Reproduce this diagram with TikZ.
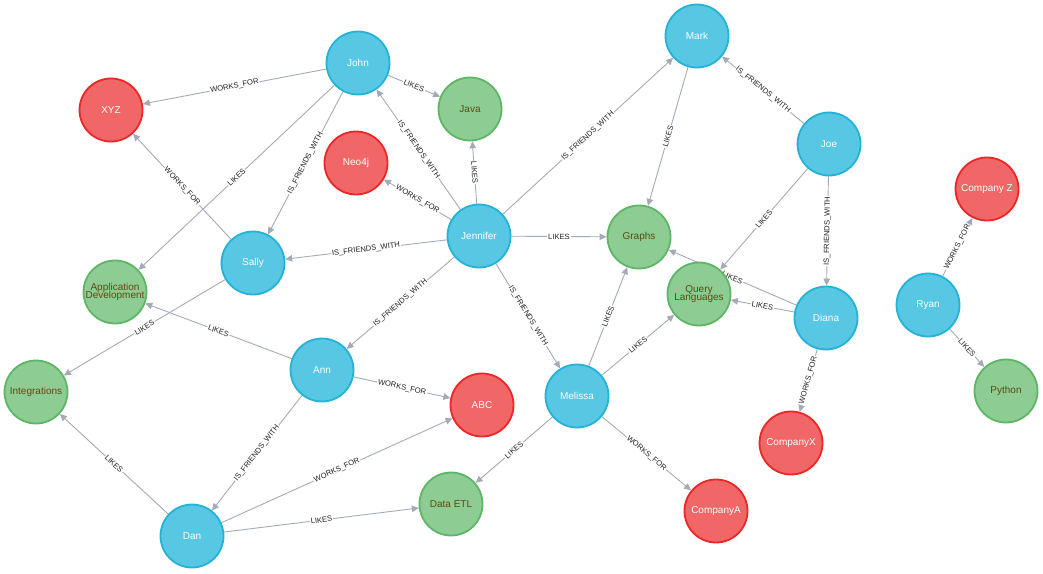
\documentclass[tikz,border=0pt]{standalone}
\usepackage{fontspec}
\setmainfont{Liberation Sans}
\usetikzlibrary{arrows.meta,backgrounds}
\definecolor{pfill}{HTML}{57C7E3}
\definecolor{pline}{HTML}{23B3D7}
\definecolor{cfill}{HTML}{F16667}
\definecolor{cline}{HTML}{EB2728}
\definecolor{tfill}{HTML}{8DCC93}
\definecolor{tline}{HTML}{5DB665}
\definecolor{ttext}{HTML}{604A0E}
\definecolor{edgec}{HTML}{A5ABB6}
\definecolor{lblc}{HTML}{222222}
\tikzset{
  nd/.style={circle,minimum size=63pt,inner sep=0pt,line width=1.8pt,align=center,
    font=\fontsize{10}{10}\selectfont},
  person/.style={nd,fill=pfill,draw=pline,text=white},
  company/.style={nd,fill=cfill,draw=cline,text=white},
  topic/.style={nd,fill=tfill,draw=tline,text=ttext},
  edge/.style={draw=edgec,line width=0.9pt,-{Triangle[length=7pt,width=6.5pt]}},
  lbl/.style={midway,sloped,fill=white,inner sep=1pt,text=lblc,
    font=\fontsize{7.6}{8}\selectfont}
}
\begin{document}
\begin{tikzpicture}[x=1pt,y=-1pt]
\useasboundingbox (0,0) rectangle (1043,573);
\node[person] (john) at (358,63) {John};
\node[company] (xyz) at (111,110) {XYZ};
\node[topic] (java) at (470,109) {Java};
\node[company] (neo) at (356,163) {Neo4j};
\node[person] (jen) at (479,236) {Jennifer};
\node[person] (sally) at (253,263) {Sally};
\node[topic] (app) at (115,292) {Application\\[-1.5pt]Development};
\node[topic] (integ) at (36,392) {Integrations};
\node[person] (ann) at (322,370) {Ann};
\node[company] (abc) at (482,405) {ABC};
\node[person] (dan) at (192,536) {Dan};
\node[topic] (etl) at (451,504) {Data ETL};
\node[person] (mel) at (577,396) {Melissa};
\node[company] (ca) at (716,511) {CompanyA};
\node[topic] (graphs) at (639,237) {Graphs};
\node[topic] (ql) at (699,294) {Query\\[-1.5pt]Languages};
\node[person] (mark) at (697,36) {Mark};
\node[person] (joe) at (829,144) {Joe};
\node[person] (diana) at (826,318) {Diana};
\node[company] (cx) at (791,443) {CompanyX};
\node[company] (cz) at (987,189) {Company Z};
\node[person] (ryan) at (928,305) {Ryan};
\node[topic] (python) at (1006,391) {Python};
\begin{scope}[on background layer]
\fill[white] (0,0) rectangle (1043,573);
\draw[edge] (john) -- node[lbl]{WORKS\_FOR} (xyz);
\draw[edge] (john) -- node[lbl]{LIKES} (java);
\draw[edge] (john) -- node[lbl]{LIKES} (app);
\draw[edge] (john) -- node[lbl]{IS\_FRIENDS\_WITH} (sally);
\draw[edge] (sally) -- node[lbl]{WORKS\_FOR} (xyz);
\draw[edge] (sally) -- node[lbl]{LIKES} (integ);
\draw[edge] (jen) -- node[lbl]{IS\_FRIENDS\_WITH} (john);
\draw[edge] (jen) -- node[lbl]{LIKES} (java);
\draw[edge] (jen) -- node[lbl]{WORKS\_FOR} (neo);
\draw[edge] (jen) -- node[lbl]{IS\_FRIENDS\_WITH} (sally);
\draw[edge] (jen) -- node[lbl]{IS\_FRIENDS\_WITH} (mark);
\draw[edge] (jen) -- node[lbl]{LIKES} (graphs);
\draw[edge] (jen) -- node[lbl]{IS\_FRIENDS\_WITH} (ann);
\draw[edge] (jen) -- node[lbl]{IS\_FRIENDS\_WITH} (mel);
\draw[edge] (ann) -- node[lbl]{LIKES} (app);
\draw[edge] (ann) -- node[lbl]{WORKS\_FOR} (abc);
\draw[edge] (ann) -- node[lbl]{IS\_FRIENDS\_WITH} (dan);
\draw[edge] (dan) -- node[lbl]{LIKES} (integ);
\draw[edge] (dan) -- node[lbl]{WORKS\_FOR} (abc);
\draw[edge] (dan) -- node[lbl]{LIKES} (etl);
\draw[edge] (mel) -- node[lbl]{LIKES} (etl);
\draw[edge] (mel) -- node[lbl]{LIKES} (graphs);
\draw[edge] (mel) -- node[lbl]{LIKES} (ql);
\draw[edge] (mel) -- node[lbl]{WORKS\_FOR} (ca);
\draw[edge] (mark) -- node[lbl]{LIKES} (graphs);
\draw[edge] (joe) -- node[lbl]{IS\_FRIENDS\_WITH} (mark);
\draw[edge] (joe) -- node[lbl]{LIKES} (ql);
\draw[edge] (joe) -- node[lbl]{IS\_FRIENDS\_WITH} (diana);
\draw[edge] (diana) -- node[lbl]{LIKES} (graphs);
\draw[edge] (diana) -- node[lbl]{LIKES} (ql);
\draw[edge] (diana) -- node[lbl]{WORKS\_FOR} (cx);
\draw[edge] (ryan) -- node[lbl]{WORKS\_FOR} (cz);
\draw[edge] (ryan) -- node[lbl]{LIKES} (python);
\end{scope}
\end{tikzpicture}
\end{document}
